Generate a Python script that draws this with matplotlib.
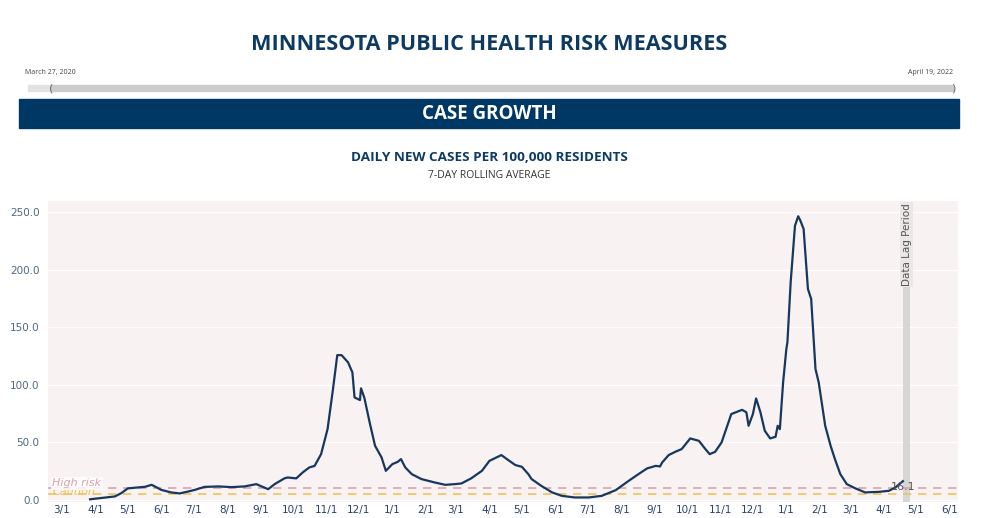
import matplotlib
matplotlib.use("Agg")
from matplotlib import pyplot as plt
from matplotlib.patches import Rectangle
import matplotlib.dates as mdates
import pandas as pd

# 数据（从图上读出来的）
dates = ["2020-03-27", "2020-04-19", "2020-04-25", "2020-05-01", "2020-05-10", "2020-05-17",
         "2020-05-23", "2020-05-26", "2020-06-01", "2020-06-10", "2020-06-18", "2020-06-26",
         "2020-07-02", "2020-07-11", "2020-07-24", "2020-08-05", "2020-08-17", "2020-08-28",
         "2020-09-08", "2020-09-14", "2020-09-23", "2020-09-26", "2020-10-04", "2020-10-10",
         "2020-10-16", "2020-10-21", "2020-10-27", "2020-11-02", "2020-11-07", "2020-11-11",
         "2020-11-15", "2020-11-21", "2020-11-25", "2020-11-27", "2020-12-02", "2020-12-03",
         "2020-12-06", "2020-12-11", "2020-12-16", "2020-12-22", "2020-12-26", "2021-01-01",
         "2021-01-06", "2021-01-09", "2021-01-13", "2021-01-19", "2021-01-28", "2021-02-09",
         "2021-02-19", "2021-02-28", "2021-03-06", "2021-03-15", "2021-03-25", "2021-04-01",
         "2021-04-12", "2021-04-18", "2021-04-25", "2021-05-01", "2021-05-07", "2021-05-10",
         "2021-05-19", "2021-05-29", "2021-06-07", "2021-06-19", "2021-07-02", "2021-07-14",
         "2021-07-27", "2021-08-08", "2021-08-17", "2021-08-25", "2021-09-02", "2021-09-06",
         "2021-09-08", "2021-09-14", "2021-09-20", "2021-09-26", "2021-10-04", "2021-10-12",
         "2021-10-18", "2021-10-22", "2021-10-27", "2021-11-02", "2021-11-11", "2021-11-21",
         "2021-11-25", "2021-11-27", "2021-12-01", "2021-12-04", "2021-12-08", "2021-12-12",
         "2021-12-17", "2021-12-22", "2021-12-24", "2021-12-26", "2021-12-29", "2022-01-01",
         "2022-01-02", "2022-01-05", "2022-01-09", "2022-01-12", "2022-01-14", "2022-01-17",
         "2022-01-21", "2022-01-24", "2022-01-28", "2022-01-31", "2022-02-06", "2022-02-11",
         "2022-02-15", "2022-02-20", "2022-02-26", "2022-03-06", "2022-03-15", "2022-03-28",
         "2022-04-06", "2022-04-12", "2022-04-19"]
cases = [0.3, 2.8, 5.7, 9.8, 10.6, 11.2,
         12.9, 11.5, 8.5, 6.3, 5.4, 7.1,
         8.5, 11.1, 11.5, 10.9, 11.5, 13.5,
         9.1, 13.5, 18.5, 19.3, 18.5, 23.7,
         28.0, 29.4, 39.6, 61.4, 96.0, 125.8,
         125.8, 119.5, 110.8, 89.0, 86.7, 96.9,
         89.0, 67.2, 46.9, 36.8, 25.1, 30.9,
         32.9, 35.3, 28.0, 22.2, 17.9, 15.0,
         12.9, 13.5, 14.1, 18.5, 25.1, 33.8,
         38.8, 34.7, 30.1, 28.6, 22.2, 17.9,
         12.0, 6.3, 3.3, 1.9, 1.9, 3.3,
         8.3, 16.4, 22.2, 27.2, 29.4, 28.9,
         32.4, 38.8, 41.6, 44.0, 53.3, 51.2,
         44.0, 39.6, 41.6, 49.8, 74.5, 78.2,
         76.0, 64.3, 74.5, 88.1, 76.0, 60.0,
         53.3, 54.7, 64.3, 61.4, 102.0, 131.1,
         137.0, 189.2, 238.5, 246.7, 242.9, 235.6,
         183.4, 174.7, 113.7, 102.0, 64.3, 46.9,
         35.3, 22.2, 13.5, 9.8, 6.3, 6.8,
         7.7, 10.6, 16.1]
caution = 5
high_risk = 10
last_label = "16.1"
lag_start, lag_end = "2022-04-19", "2022-04-26"
y_ticks = [0, 50, 100, 150, 200, 250]

navy = "#003865"
x = pd.to_datetime(dates)

fig = plt.figure(figsize=(9.87, 5.18), dpi=100)
head_font = ["Open Sans", "DejaVu Sans"]

# 标题
fig.text(0.496, 0.915, "MINNESOTA PUBLIC HEALTH RISK MEASURES", ha="center", va="center",
         fontsize=15.6, fontweight="bold", color="#0d3a63", family=head_font)

# 滑块
fig.text(0.051, 0.861, "March 27, 2020", ha="center", va="center", fontsize=5, color="#444", family=head_font)
fig.text(0.943, 0.861, "April 19, 2022", ha="center", va="center", fontsize=5, color="#444", family=head_font)
fig.patches.append(Rectangle((0.028, 0.825), 0.024, 0.01, transform=fig.transFigure, color="#e3e3e3"))
fig.patches.append(Rectangle((0.052, 0.825), 0.914, 0.01, transform=fig.transFigure, color="#cccccc"))
fig.text(0.052, 0.830, "(", ha="center", va="center", fontsize=8, color="#666")
fig.text(0.966, 0.830, ")", ha="center", va="center", fontsize=8, color="#666")

# 蓝色横条
fig.patches.append(Rectangle((0.0193, 0.753), 0.952, 0.056, transform=fig.transFigure, color=navy))
fig.text(0.496, 0.780, "CASE GROWTH", ha="center", va="center", fontsize=13.5,
         fontweight="bold", color="white", family=head_font)

fig.text(0.496, 0.695, "DAILY NEW CASES PER 100,000 RESIDENTS", ha="center", va="center",
         fontsize=9.7, fontweight="bold", color="#0d3a63", family=head_font)
fig.text(0.496, 0.662, "7-DAY ROLLING AVERAGE", ha="center", va="center",
         fontsize=7.5, color="#333", family=head_font)

ax = fig.add_axes([0.0486, 0.031, 0.922, 0.581])
ax.set_facecolor("#f8f2f2")
for s in ax.spines.values():
    s.set_visible(False)
ax.grid(axis="y", color="white", lw=1)
ax.set_axisbelow(True)

# 数据延迟区
ax.axvspan(pd.Timestamp(lag_start), pd.Timestamp(lag_end), ymin=0, ymax=0.75, color="#d6d6d6", lw=0)
ax.text(pd.Timestamp(lag_start) + (pd.Timestamp(lag_end) - pd.Timestamp(lag_start)) / 2, 258,
        "Data Lag Period", rotation=90, ha="center", va="top", fontsize=7.5, color="#555",
        bbox=dict(facecolor="#ebe7e7", edgecolor="none", pad=1))

# 阈值线
ax.axhline(high_risk, color="#dba3ae", ls=(0, (5, 4)), lw=1.2)
ax.axhline(caution, color="#ebc45a", ls=(0, (5, 4)), lw=1.2)
ax.text(pd.Timestamp("2020-02-21"), caution - 1, "Caution", fontsize=8, color="#ebc45a", style="italic")
ax.text(pd.Timestamp("2020-02-21"), high_risk + 1.5, "High risk", fontsize=8, color="#d9a3ae", style="italic",
        bbox=dict(facecolor="white", edgecolor="none", alpha=0.8, pad=1))

ax.plot(x, cases, color="#17375e", lw=1.6)
ax.text(x[-1], cases[-1] - 5, last_label, ha="center", va="center", fontsize=8, color="#555")

ax.set_xlim(pd.Timestamp("2020-02-17"), pd.Timestamp("2022-06-09"))
ax.set_ylim(-2, 260)
ax.set_yticks(y_ticks)
ax.set_yticklabels(["{:.1f}".format(v) for v in y_ticks])
ax.xaxis.set_major_locator(mdates.MonthLocator())
ax.xaxis.set_major_formatter(mdates.DateFormatter("%-m/1"))
ax.tick_params(axis="y", length=0, labelsize=7.5, labelcolor="#506784", pad=6)
ax.tick_params(axis="x", length=0, labelsize=7.5, labelcolor="#2a3f6f", pad=2.5)

plt.savefig("out.png", dpi=100)
